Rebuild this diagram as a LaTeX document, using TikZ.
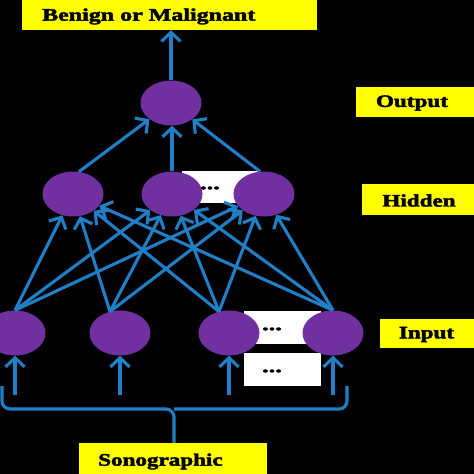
\documentclass[tikz,border=0pt]{standalone}
\usepackage{fontspec}
\setmainfont{Liberation Serif}[BoldFeatures={FakeBold=2.2}]
\usetikzlibrary{shapes.geometric,arrows.meta}
\definecolor{nnblue}{HTML}{1F80C8}
\definecolor{nnpurple}{HTML}{7030A0}
\definecolor{nnyellow}{HTML}{FFFF00}
\newcommand{\lbltxt}[2][1.32]{\scalebox{#1}[1]{\fontsize{17.5}{20}\selectfont\bfseries #2}}
\begin{document}
\begin{tikzpicture}[x=1pt,y=-1pt,
  neuron/.style={ellipse,fill=nnpurple,minimum width=61pt,minimum height=45pt,inner sep=0pt},
  ybox/.style={rectangle,fill=nnyellow,inner sep=0pt},
  wbox/.style={rectangle,fill=white,inner sep=0pt},
  lbl/.style={inner sep=0pt,text=black},
  conn/.style={draw=nnblue,line width=3.1pt,-{Straight Barb[length=9pt,width=19pt]}},
  brace/.style={draw=nnblue,line width=3.1pt,rounded corners=8pt}]
\fill[black] (0,0) rectangle (474,474);
\useasboundingbox (0,0) rectangle (474,474);
\clip (0,0) rectangle (474,474);
% yellow label boxes
\node[ybox,minimum width=295pt,minimum height=32pt] (bmbox) at (169.5,14) {};
\node[lbl,anchor=west] (bm) at (42,16.5) {\lbltxt[1.37]{Benign or Malignant}};
\node[ybox,minimum width=120pt,minimum height=30pt] (outlbl) at (416,102) {};
\node[lbl] (outt) at (412,103) {\lbltxt{Output}};
\node[ybox,minimum width=114pt,minimum height=31pt] (hidlbl) at (419,199.5) {};
\node[lbl] (hidt) at (419,200.5) {\lbltxt{Hidden}};
\node[ybox,minimum width=96pt,minimum height=29pt] (inlbl) at (428,333.5) {};
\node[lbl] (int) at (426.5,334.5) {\lbltxt{Input}};
\node[ybox,minimum width=188pt,minimum height=33pt] (sonobox) at (173,459.5) {};
\node[lbl,anchor=west] (sono) at (98,461.5) {\lbltxt{Sonographic}};
% white boxes
\node[wbox,minimum width=76pt,minimum height=32pt] (wh) at (220,187) {};
\node[lbl] (whd) at (210,188) {\lbltxt[1.5]{...}};
\node[wbox,minimum width=77pt,minimum height=33pt] (wi1) at (282.5,327.5) {};
\node[lbl] (wi1d) at (272,329) {\lbltxt[1.5]{...}};
\node[wbox,minimum width=77pt,minimum height=33pt] (wi2) at (282.5,369.5) {};
\node[lbl] (wi2d) at (272,371) {\lbltxt[1.5]{...}};
% neurons
\node[neuron] (o) at (171,103) {};
\node[neuron] (h1) at (73,194) {};
\node[neuron] (h2) at (172,194) {};
\node[neuron] (h3) at (264,194) {};
\node[neuron] (i1) at (15,333) {};
\node[neuron] (i2) at (120,333) {};
\node[neuron] (i3) at (229,333) {};
\node[neuron] (i4) at (333,333) {};
% output to result
\draw[conn] (o.north) -- (bmbox.south -| o.north);
% hidden to output
\draw[conn] (h1.75) -- (o);
\draw[conn] (h2.north) -- (o.south -| h2.north);
\draw[conn] (h3.100) -- (o);
% input to hidden
\foreach \i/\a in {i1/90,i2/115,i3/115,i4/90}{
  \foreach \h in {h1,h2,h3}{
    \draw[conn] (\i.\a) -- (\h);
  }
}
% input arrows
\foreach \i in {i1,i2,i3,i4}{
  \coordinate (\i s) at (\i.south |- 0,395);
  \draw[conn] (\i s) -- (\i.south);
}
% brace
\coordinate (bl) at (2,386);
\coordinate (br) at (347,386);
\coordinate (bm1) at (174,409);
\draw[brace] (bl) -- (2,409) -- (bm1) -- (sonobox.north -| bm1);
\draw[brace] (br) -- (347,409) -- (bm1);
\end{tikzpicture}
\end{document}
